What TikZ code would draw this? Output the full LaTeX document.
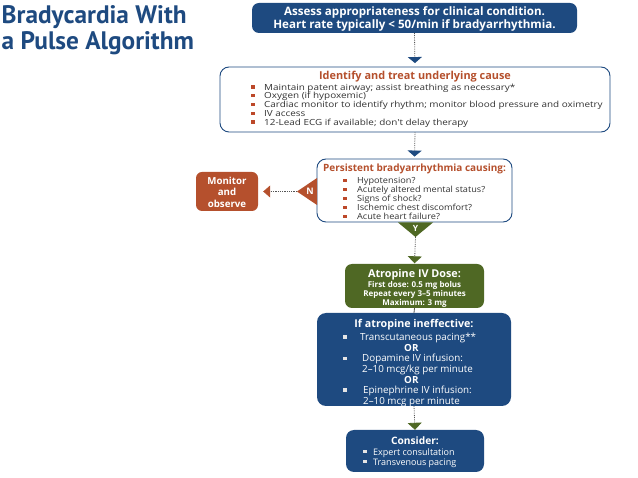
\documentclass[tikz,border=0pt]{standalone}
\usepackage{fontspec}
\setmainfont{Open Sans}
\newfontfamily\titlefont{PT Sans}
\newfontfamily\wideA[FakeStretch=1.18]{Open Sans}
\newfontfamily\wideB[FakeStretch=1.09]{Open Sans}
\usetikzlibrary{arrows.meta}
\definecolor{aha}{HTML}{1E4A80}
\definecolor{rust}{HTML}{B5502D}
\definecolor{leaf}{HTML}{4F6824}
\definecolor{dotgray}{HTML}{555555}
\newcommand{\obul}{\textcolor{rust!90!red}{\rule[1.5pt]{3.5pt}{3.3pt}}}
\newcommand{\wbul}{\textcolor{white!80!gray}{\rule[2pt]{3.6pt}{3.4pt}}}
\begin{document}
\begin{tikzpicture}[x=1pt,y=-1pt,
  fillbox/.style={rounded corners=7pt,minimum width=#1,inner sep=0pt},
  bluebox/.style={fillbox=#1,fill=aha},
  outline/.style={rounded corners=9pt,draw=aha,line width=0.9pt,fill=white,inner sep=0pt,minimum width=#1},
  txt/.style={inner sep=0pt},
  conn/.style={densely dotted,draw=dotgray,line width=0.8pt},
  tipblue/.style={-{Triangle[width=14pt,length=6pt,color=aha]}},
  tipgreen/.style={-{Triangle[width=14pt,length=7pt,color=leaf]}},
  tiprust/.style={-{Triangle[width=12pt,length=7pt,color=rust]}},
]
\useasboundingbox (0,0) rectangle (638,478);
% title
\node[anchor=north west,inner sep=0pt,align=left,text=aha,font=\titlefont\fontsize{25.3}{26}\selectfont\bfseries] (title) at (1.5,5) {Bradycardia With\\a Pulse Algorithm};

% box 1
\node[bluebox=325pt,minimum height=30pt] (b1) at (414.5,18) {};
\node[inner sep=0pt,align=center,text=white,font=\fontsize{11.6}{13}\selectfont\bfseries] (b1t) at (414.5,18.5) {Assess appropriateness for clinical condition.\\Heart rate typically < 50/min if bradyarrhythmia.};

% box 2
\node[outline=390pt,minimum height=65pt] (b2) at (415,99.5) {};
\node[inner sep=0pt,text=rust,font=\fontsize{10.9}{12}\selectfont\bfseries] (b2t) at (415,76.5) {Identify and treat underlying cause};
\node[txt,anchor=north west,align=left,text=black!80,font=\wideA\fontsize{8.4}{8.75}\selectfont] (b2l) at (251,83.5) {%
\makebox[13pt][l]{\obul}Maintain patent airway; assist breathing as necessary*\\
\makebox[13pt][l]{\obul}Oxygen (if hypoxemic)\\
\makebox[13pt][l]{\obul}Cardiac monitor to identify rhythm; monitor blood pressure and oximetry\\
\makebox[13pt][l]{\obul}IV access\\
\makebox[13pt][l]{\obul}12-Lead ECG if available; don't delay therapy};

% box 3
\node[outline=195pt,minimum height=63pt] (b3) at (414.5,190.5) {};
\node[inner sep=0pt,text=rust,font=\fontsize{10}{11}\selectfont\bfseries] (b3t) at (414.5,168.5) {Persistent bradyarrhythmia causing:};
\node[txt,anchor=north west,align=left,text=black!80,font=\wideB\fontsize{8.4}{9}\selectfont] (b3l) at (343,177) {%
\makebox[14pt][l]{\obul}Hypotension?\\
\makebox[14pt][l]{\obul}Acutely altered mental status?\\
\makebox[14pt][l]{\obul}Signs of shock?\\
\makebox[14pt][l]{\obul}Ischemic chest discomfort?\\
\makebox[14pt][l]{\obul}Acute heart failure?};

% N branch
\fill[rust] (317,178) -- (297,191.5) -- (317,205) -- cycle;
\node[inner sep=0pt,text=white,font=\fontsize{9}{10}\selectfont\bfseries] (N) at (310,191.5) {N};
\coordinate (Ntip) at (297,191.5);
\node[fillbox=62pt,fill=rust,minimum height=39pt,rounded corners=6pt] (mon) at (227,191.5) {};
\node[inner sep=0pt,align=center,text=white,font=\fontsize{9.7}{11.5}\selectfont\bfseries] (mont) at (227,192) {Monitor\\and\\observe};

% Y branch
\fill[leaf] (398,222.5) -- (433,222.5) -- (415.5,237) -- cycle;
\node[inner sep=0pt,text=white,font=\fontsize{8.5}{10}\selectfont\bfseries] (Y) at (415.5,228.5) {Y};
\coordinate (Ytip) at (415.5,237);

% atropine
\node[fillbox=139pt,fill=leaf,minimum height=44pt] (atr) at (414.5,286) {};
\node[inner sep=0pt,text=white,font=\fontsize{10.8}{12}\selectfont\bfseries] (atrt) at (414.5,274.5) {Atropine IV Dose:};
\node[inner sep=0pt,align=center,text=white,font=\fontsize{8}{8.6}\selectfont\bfseries] (atrl) at (414.5,294.5) {First dose: 0.5 mg bolus\\Repeat every 3--5 minutes\\Maximum: 3 mg};

% if atropine ineffective
\node[bluebox=194pt,minimum height=93pt,rounded corners=9pt] (ineff) at (414,359.5) {};
\node[inner sep=0pt,text=white,font=\fontsize{10.7}{11}\selectfont\bfseries] (innt) at (414,324.5) {If atropine ineffective:};
\node[txt,anchor=north west,align=left,text=white,font=\fontsize{9.8}{10.65}\selectfont] (innl) at (343,333) {%
\makebox[17pt][l]{\wbul}Transcutaneous pacing**\\
\hspace*{61pt}\textbf{OR}\\
\makebox[19pt][l]{\wbul}Dopamine IV infusion:\\
\hspace*{19pt}2--10 mcg/kg per minute\\
\hspace*{61pt}\textbf{OR}\\
\makebox[20pt][l]{\wbul}Epinephrine IV infusion:\\
\hspace*{20pt}2--10 mcg per minute};

% consider
\node[bluebox=138pt,minimum height=42pt,rounded corners=8pt] (cons) at (415,451) {};
\node[inner sep=0pt,text=white,font=\fontsize{10.2}{12}\selectfont\bfseries] (const) at (415,441) {Consider:};
\node[txt,anchor=north west,align=left,text=white,font=\fontsize{9}{10}\selectfont] (consl) at (363,448) {%
\makebox[10pt][l]{\wbul}Expert consultation\\
\makebox[10pt][l]{\wbul}Transvenous pacing};

% connectors
\draw[conn,tipblue,shorten >=3.5pt] (b1.south) -- (b2.north);
\draw[conn,tipblue,shorten >=2pt] (b2.south) -- (b3.north);
\draw[conn,tiprust,shorten >=5pt] (Ntip) -- (mon.east);
\draw[conn,tipgreen,shorten >=0.5pt] (Ytip) -- (atr.north);
\draw[draw=dotgray,line width=0.8pt] (atr.south) -- (ineff.north);
\draw[conn,tipgreen,shorten >=0pt] (ineff.south) -- (cons.north);
\end{tikzpicture}
\end{document}
